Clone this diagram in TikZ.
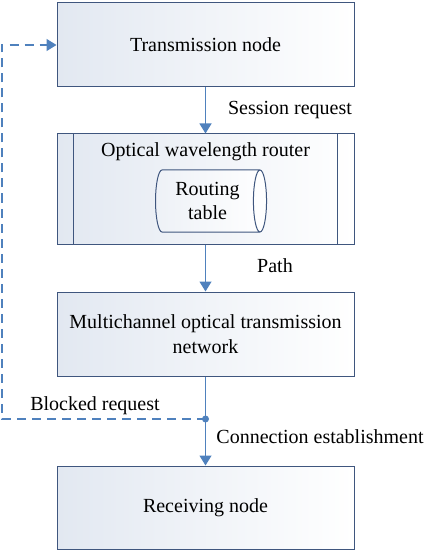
\documentclass[tikz,border=0pt]{standalone}
\usepackage{fontspec}
\setmainfont{Liberation Serif}
\usetikzlibrary{shapes.geometric,arrows.meta}
\definecolor{bordc}{HTML}{3F567E}
\definecolor{arrc}{HTML}{4F81BD}
\definecolor{fillc}{HTML}{E2E8F1}
\tikzset{
  box/.style={draw=bordc, line width=1pt, left color=fillc, right color=white,
    minimum width=297pt, inner sep=0pt, align=center, font=\fontsize{20}{25}\selectfont},
  flow/.style={draw=arrc, line width=1.2pt, -{Triangle[length=10pt,width=12pt]}},
  back/.style={draw=arrc, line width=1.5pt, dash pattern=on 9pt off 6pt, -{Triangle[length=10pt,width=12pt]}},
  lbl/.style={font=\fontsize{20}{25}\selectfont, inner sep=0pt},
}
\begin{document}
\begin{tikzpicture}[x=1pt,y=-1pt]
\useasboundingbox (0,0) rectangle (436,553);
\node[box, minimum height=84pt] (tx) at (205.5,45) {Transmission node};
\node[box, minimum height=110pt] (rt) at (205.5,189) {};
\draw[bordc, line width=1pt] ([xshift=17pt]rt.north west) -- ([xshift=17pt]rt.south west);
\draw[bordc, line width=1pt] ([xshift=-17pt]rt.north east) -- ([xshift=-17pt]rt.south east);
\node[lbl] (rtl) at (205.5,152) {Optical wavelength router};
\node[cylinder, draw=bordc, line width=1pt, left color=fillc!60, right color=white,
  shape aspect=0.35, minimum width=62pt, minimum height=111pt, inner sep=0pt,
  align=center, font=\fontsize{20}{24}\selectfont] (cyl) at (207.5,201) {Routing\\table};
\node[box, minimum height=84pt] (mc) at (205.5,334) {Multichannel optical transmission\\network};
\node[box, minimum height=83pt] (rx) at (205.5,507.5) {Receiving node};
\coordinate (j) at (205.5,419);
\coordinate (bl) at (2,419);
\coordinate (tl) at (2,45);
\draw[flow] (tx) -- (rt);
\draw[flow] (rt) -- (mc);
\draw[flow] (mc) -- (rx);
\draw[back] (j) -- (bl) -- (tl) -- (tx.west);
\fill[arrc] (j) circle (3.5pt);
\node[lbl] (l1) at (290,110) {Session request};
\node[lbl] (l2) at (275,266) {Path};
\node[lbl] (l3) at (95,406) {Blocked request};
\node[lbl] (l4) at (320,437) {Connection establishment};
\end{tikzpicture}
\end{document}
